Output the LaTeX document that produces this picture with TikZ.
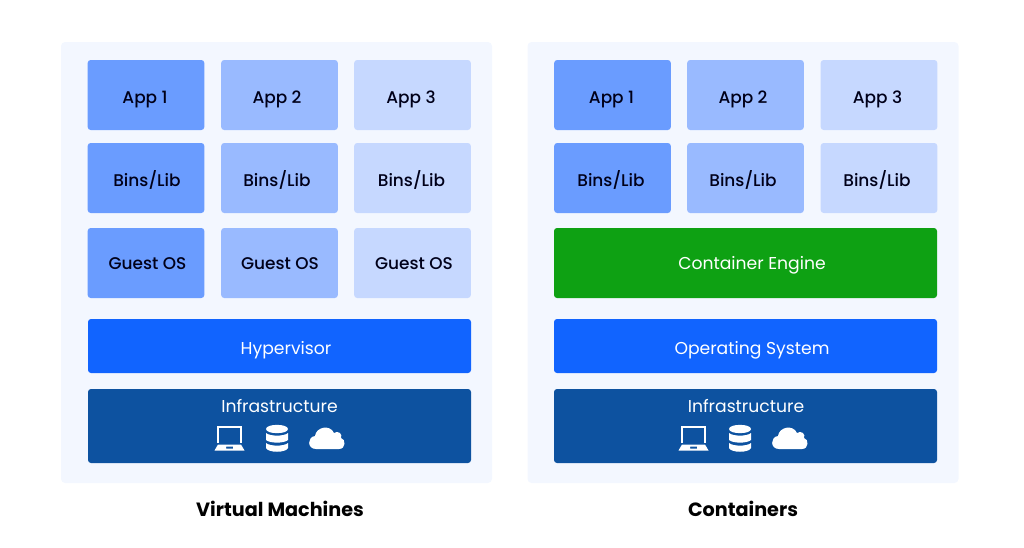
\documentclass[tikz,border=0pt]{standalone}
\usepackage{fontspec}
\setmainfont{Poppins}
\newfontfamily\mediumfont{Poppins Medium}
\definecolor{panelbg}{HTML}{F3F7FF}
\definecolor{tierone}{HTML}{6A9CFF}
\definecolor{tiertwo}{HTML}{99BAFF}
\definecolor{tierthree}{HTML}{C6D8FF}
\definecolor{hostblue}{HTML}{1164FF}
\definecolor{infrablue}{HTML}{0D52A0}
\definecolor{enginegreen}{HTML}{0EA113}
\newcommand{\laptopicon}{
  \draw[white,line width=1pt] (-11.5,16) -- (-11.5,0) -- (11.5,0) -- (11.5,16);
  \fill[white,even odd rule] (-11.5,17.5) -- (11.5,17.5) -- (15,23.5) -- (-15,23.5) -- cycle (-3.5,19.5) rectangle (3.5,21.5);
}
\newcommand{\databaseicon}{
  \fill[white] (-11,4) .. controls (-11,-1.5) and (11,-1.5) .. (11,4) .. controls (11,9.5) and (-11,9.5) .. (-11,4) -- cycle;
  \fill[white] (-11,8) .. controls (-7,11.5) and (7,11.5) .. (11,8) -- (11,15) .. controls (7,18.5) and (-7,18.5) .. (-11,15) -- cycle;
  \fill[white] (-11,18) .. controls (-7,21.5) and (7,21.5) .. (11,18) -- (11,23) .. controls (9,28) and (-9,28) .. (-11,23) -- cycle;
}
\newcommand{\cloudicon}{
  \fill[white] (-11,22) .. controls (-20,22) and (-20,10) .. (-12,9) .. controls (-11,0) and (3,-3) .. (7,6) .. controls (11,3) and (16,7) .. (14,11) .. controls (19,12) and (19,22) .. (12,22) -- cycle;
}
\tikzset{
  panel/.style={fill=panelbg,rounded corners=3pt,minimum width=323.25pt,minimum height=330.75pt,inner sep=0pt},
  box/.style={rounded corners=2.25pt,inner sep=0pt},
  small/.style={box,minimum width=87.5pt,minimum height=52.5pt},
  wide/.style={box,minimum width=287.25pt},
  dark/.style={inner sep=0pt,font=\mediumfont\fontsize{12.7pt}{15pt}\selectfont,text=black!90!blue,text height=9pt,text depth=0pt},
  light/.style={inner sep=0pt,font=\fontsize{12.9pt}{15pt}\selectfont,text=white,text height=9pt,text depth=0pt},
  caption/.style={inner sep=0pt,font=\fontsize{14.4pt}{17pt}\selectfont\bfseries,text=black}
}
\begin{document}
\begin{tikzpicture}[x=0.75pt,y=0.75pt,yscale=-1,xscale=1]
  \useasboundingbox (0,0) rectangle (1024,547);
  % left stack
  \node[panel] (vmpanel) at (276.5,262.5) {};
  \node[small,fill=tierone] (vmappa) at (146,95) {};
  \node[small,fill=tiertwo] (vmappb) at (279.5,95) {};
  \node[small,fill=tierthree] (vmappc) at (412.5,95) {};
  \node[small,fill=tierone] (vmbinsa) at (146,178) {};
  \node[small,fill=tiertwo] (vmbinsb) at (279.5,178) {};
  \node[small,fill=tierthree] (vmbinsc) at (412.5,178) {};
  \node[small,fill=tierone] (vmosa) at (146,263) {};
  \node[small,fill=tiertwo] (vmosb) at (279.5,263) {};
  \node[small,fill=tierthree] (vmosc) at (412.5,263) {};
  \node[wide,fill=hostblue,minimum height=40.5pt] (hypervisor) at (279.5,346) {};
  \node[wide,fill=infrablue,minimum height=55.5pt] (vminfra) at (279.5,426) {};
  \node[dark] (vmappalabel) at (145,97) {App 1};
  \node[dark] (vmappblabel) at (277,97) {App 2};
  \node[dark] (vmappclabel) at (411,97) {App 3};
  \node[dark] (vmbinsalabel) at (147,180) {Bins/Lib};
  \node[dark] (vmbinsblabel) at (277,180) {Bins/Lib};
  \node[dark] (vmbinsclabel) at (411.5,180) {Bins/Lib};
  \node[dark] (vmosalabel) at (147.5,263) {Guest OS};
  \node[dark] (vmosblabel) at (280,263) {Guest OS};
  \node[dark] (vmosclabel) at (414,263) {Guest OS};
  \node[light] (hypervisorlabel) at (286,348) {Hypervisor};
  \node[light] (vminfralabel) at (279.5,406) {Infrastructure};
  \begin{scope}[shift={(229.5,427)}] \laptopicon \end{scope}
  \begin{scope}[shift={(277,425)}] \databaseicon \end{scope}
  \begin{scope}[shift={(327,427)}] \cloudicon \end{scope}
  \node[caption] (vmcaption) at (280,509) {Virtual Machines};
  % right stack
  \node[panel] (ctpanel) at (743,262.5) {};
  \node[small,fill=tierone] (ctappa) at (612.5,95) {};
  \node[small,fill=tiertwo] (ctappb) at (745.5,95) {};
  \node[small,fill=tierthree] (ctappc) at (879,95) {};
  \node[small,fill=tierone] (ctbinsa) at (612.5,178) {};
  \node[small,fill=tiertwo] (ctbinsb) at (745.5,178) {};
  \node[small,fill=tierthree] (ctbinsc) at (879,178) {};
  \node[wide,fill=enginegreen,minimum height=52.5pt] (engine) at (745.5,263) {};
  \node[wide,fill=hostblue,minimum height=40.5pt] (hostos) at (745.5,346) {};
  \node[wide,fill=infrablue,minimum height=55.5pt] (ctinfra) at (745.5,426) {};
  \node[dark] (ctappalabel) at (611.5,97) {App 1};
  \node[dark] (ctappblabel) at (743,97) {App 2};
  \node[dark] (ctappclabel) at (877.5,97) {App 3};
  \node[dark] (ctbinsalabel) at (611,180) {Bins/Lib};
  \node[dark] (ctbinsblabel) at (743,180) {Bins/Lib};
  \node[dark] (ctbinsclabel) at (877,180) {Bins/Lib};
  \node[light] (enginelabel) at (752,263) {Container Engine};
  \node[light] (hostoslabel) at (752,348) {Operating System};
  \node[light] (ctinfralabel) at (746,406) {Infrastructure};
  \begin{scope}[shift={(693.5,427)}] \laptopicon \end{scope}
  \begin{scope}[shift={(740,425)}] \databaseicon \end{scope}
  \begin{scope}[shift={(790,427)}] \cloudicon \end{scope}
  \node[caption] (ctcaption) at (743,509) {Containers};
\end{tikzpicture}
\end{document}
